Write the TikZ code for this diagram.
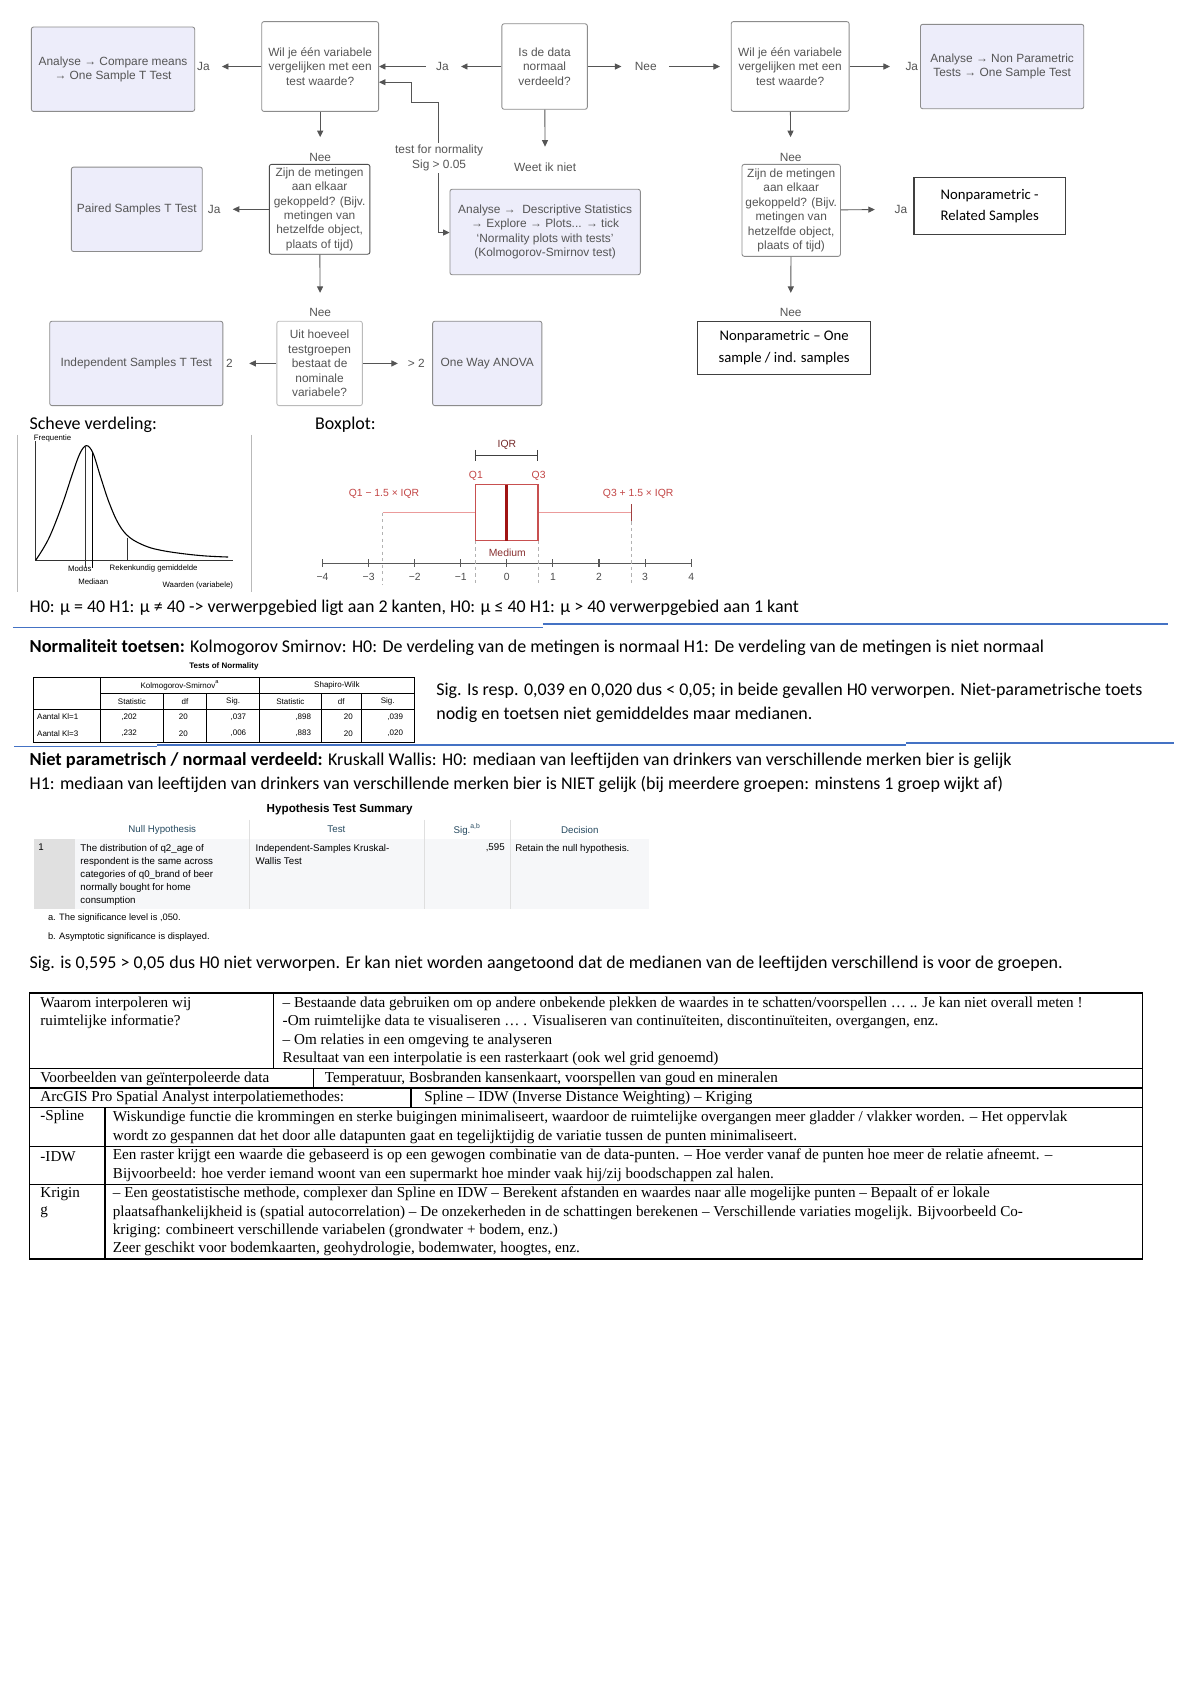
\documentclass[tikz,border=0pt]{standalone}
\usepackage{fontspec}
\setmainfont{Carlito}
\newfontfamily\arialf{Liberation Sans}
\newfontfamily\timesf{Liberation Serif}
\usetikzlibrary{arrows.meta}
\definecolor{lav}{RGB}{237,237,250}
\definecolor{fgrey}{RGB}{85,85,85}
\definecolor{bgrey}{RGB}{140,140,140}
\definecolor{sepblue}{RGB}{68,114,196}
\definecolor{bxred}{RGB}{200,80,80}
\definecolor{whred}{RGB}{235,155,155}
\definecolor{mdred}{RGB}{160,20,20}
\definecolor{lbred}{RGB}{195,70,70}
\definecolor{spssblue}{RGB}{38,74,96}
\definecolor{spssgrey}{RGB}{224,224,224}
\definecolor{spssbg}{RGB}{246,247,249}
\newcommand\fsz[2]{\fontsize{#1}{#2}\selectfont}
\tikzset{
  fc/.style={draw=bgrey, line width=0.4pt, rounded corners=1pt, align=center, inner sep=0pt, font=\arialf\fsz{5.5}{6.65}, text=fgrey},
  lavbox/.style={fc, fill=lav},
  whbox/.style={fc, fill=white},
  darkbox/.style={fc, fill=white, draw=black!70},
  blkbox/.style={draw=black!75, line width=0.5pt, align=center, inner sep=0pt, font=\fsz{6.8}{10}, text=black},
  lbl/.style={font=\arialf\fsz{5.5}{6.65}, text=fgrey, inner sep=0pt, align=center},
  arr/.style={draw=fgrey, line width=0.4pt, -{Triangle[length=3pt,width=2.8pt]}},
  arrboth/.style={draw=fgrey, line width=0.4pt, {Triangle[length=3pt,width=2.8pt]}-{Triangle[length=3pt,width=2.8pt]}},
  body/.style={anchor=west, inner sep=0pt, font=\fsz{8.3}{10}},
  tiny/.style={inner sep=0pt, font=\arialf\fsz{3.6}{4.2}},
  bpl/.style={inner sep=0pt, font=\arialf\fsz{4.8}{5.5}},
  ntab/.style={inner sep=0pt, font=\arialf\fsz{3.7}{4.2}},
  htab/.style={inner sep=0pt, font=\arialf\fsz{4.5}{6}, align=left},
  ttab/.style={anchor=west, inner sep=0pt, font=\timesf\fsz{7}{8.5}},
  sep/.style={draw=sepblue, line width=0.75pt}
}
\begin{document}
\begin{tikzpicture}[x={(0.5pt,0)}, y={(0,-0.5pt)}]
\fill[white] (0,0) rectangle (1109,1568);
\useasboundingbox (0,0) rectangle (1109,1568);

% ---------------- flowchart ----------------
\node[lavbox, minimum width=75.5pt, minimum height=39pt] (A) at (104.5,64) {Analyse → Compare means\\→ One Sample T Test};
\node[whbox, minimum width=54pt, minimum height=41.5pt] (B) at (296,61.5) {Wil je één variabele\\vergelijken met een\\test waarde?};
\node[whbox, minimum width=39.5pt, minimum height=39.5pt] (C) at (503.5,61.5) {Is de data\\normaal\\verdeeld?};
\node[whbox, minimum width=54.5pt, minimum height=41.5pt] (B2) at (730.5,61.5) {Wil je één variabele\\vergelijken met een\\test waarde?};
\node[lavbox, minimum width=75.5pt, minimum height=39pt] (A2) at (926.5,61.5) {Analyse → Non Parametric\\Tests → One Sample Test};
\node[darkbox, minimum width=46.5pt, minimum height=41.5pt] (E) at (295.5,193.5) {Zijn de metingen\\aan elkaar\\gekoppeld? (Bijv.\\metingen van\\hetzelfde object,\\plaats of tijd)};
\node[lavbox, minimum width=60.5pt, minimum height=39pt] (F) at (126.5,193.5) {Paired Samples T Test};
\node[lavbox, minimum width=88pt, minimum height=39.5pt] (D) at (504,214.5) {Analyse →\ \ Descriptive Statistics\\→ Explore → Plots... → tick\\‘Normality plots with tests’\\(Kolmogorov-Smirnov test)};
\node[whbox, minimum width=45.5pt, minimum height=42.5pt] (E2) at (731.5,194.5) {Zijn de metingen\\aan elkaar\\gekoppeld? (Bijv.\\metingen van\\hetzelfde object,\\plaats of tijd)};
\node[blkbox, minimum width=70pt, minimum height=26.5pt, align=left] (G) at (915,190.5) {Nonparametric -\\Related Samples};
\node[whbox, draw=bgrey!60, minimum width=39.5pt, minimum height=39pt] (H) at (295.5,336) {Uit hoeveel\\testgroepen\\bestaat de\\nominale\\variabele?};
\node[lavbox, minimum width=80pt, minimum height=39pt] (I) at (126,336) {Independent Samples T Test};
\node[lavbox, minimum width=50.5pt, minimum height=39pt] (J) at (450.5,336) {One Way ANOVA};
\node[blkbox, minimum width=80pt, minimum height=24.5pt] (K) at (725,321.5) {Nonparametric – One\\sample / ind. samples};

% labels
\node[lbl] (jaA) at (188,61.5) {Ja};
\node[lbl] (jaB) at (409,61.5) {Ja};
\node[lbl] (neeC) at (597,61.5) {Nee};
\node[lbl] (jaB2) at (843,61.5) {Ja};
\node[lbl] (neeB) at (296,146) {Nee};
\node[lbl] (jaE) at (198,193.5) {Ja};
\node[lbl] (wik) at (504,155) {Weet ik niet};
\node[lbl] (neeB2) at (731,146) {Nee};
\node[lbl] (jaE2) at (833,193.5) {Ja};
\node[lbl] (neeE) at (296,289) {Nee};
\node[lbl] (twoH) at (212,336) {2};
\node[lbl] (gtH) at (385,336) {> 2};
\node[lbl] (neeE2) at (731,289) {Nee};

% connectors
\draw[arr, shorten >=5.5pt] (B) -- (jaA);
\draw[arr, shorten >=5.5pt] (C) -- (jaB);
\draw[arr, shorten <=4.5pt] (jaB) -- (B);
\draw[arr, shorten >=6pt] (C) -- (neeC);
\draw[arr, shorten <=5.5pt, shorten >=5pt] (neeC) -- (B2);
\draw[arr, shorten >=7pt] (B2) -- (jaB2);
\draw[arr, shorten >=7.5pt] (B) -- (neeB);
\draw[arr, shorten >=5.5pt] (E) -- (jaE);
\draw[arr, shorten >=7.5pt] (C) -- (wik);
\draw[arr, shorten >=7.5pt] (B2) -- (neeB2);
\draw[arr, shorten >=9pt] (E2) -- (jaE2);
\draw[arr, shorten >=7pt] (E) -- (neeE);
\draw[arr, shorten >=7.5pt] (H) -- (twoH);
\draw[arr, shorten >=4.5pt] (H) -- (gtH);
\draw[arr, shorten >=7pt] (E2) -- (neeE2);
\draw[arrboth] (B.east |- 0,76) -- (380,76) -- (380,95) -- (405.7,95) -- (405.7,215) -- (D.west |- 0,215);
\node[lbl, fill=white, inner sep=1pt] (tfn) at (406,146) {test for normality\\Sig > 0.05};

% ---------------- skewed distribution ----------------
\node[body] (scheve) at (27,393) {Scheve verdeling:};
\node[body] (boxpl) at (291,393) {Boxplot:};
\draw[gray!55, line width=0.4pt] (16,402) -- (16,547);
\draw[gray!55, line width=0.4pt] (232,402) -- (232,547);
\draw[black!80, line width=0.4pt] (33,408) -- (33,518) -- (215,518);
\draw[black, line width=0.5pt] plot[smooth, tension=0.6] coordinates {(33,518) (45,498) (57,468) (67,438) (74,419) (80,412) (86,419) (93,441) (101,465) (110,485) (120,497) (135,505) (150,509) (170,512) (190,514) (211,515)};
\draw[black!80, line width=0.35pt] (79,412) -- (79,525);
\draw[black, line width=0.7pt] (85.5,418) -- (85.5,525);
\draw[black!80, line width=0.35pt] (118,497) -- (118,518);
\node[tiny, anchor=west] (freq) at (31,405) {Frequentie};
\node[tiny, anchor=east] (modus) at (85,526) {Modus};
\node[tiny, anchor=west] (mediaan) at (72,538) {Mediaan};
\node[tiny, anchor=west] (rekg) at (101,526) {Rekenkundig gemiddelde};
\node[tiny, anchor=west] (waard) at (150,541) {Waarden (variabele)};

% ---------------- boxplot ----------------
\draw[gray!70!black, line width=0.5pt] (298.2,521) -- (639,521);
\foreach \v/\t [count=\i] in {298.2/−4, 340.8/−3, 383.4/−2, 426/−1, 468.6/0, 511.2/1, 553.8/2, 596.4/3, 639/4}{
  \draw[gray!70!black, line width=0.5pt] (\v,517) -- (\v,524);
  \node[bpl, text=gray!60!black] (ax\i) at (\v,533) {\t};
}
\draw[gray!60, line width=0.35pt, dash pattern=on 1.5pt off 1.5pt] (439.9,500) -- (439.9,541);
\draw[gray!60, line width=0.35pt, dash pattern=on 1.5pt off 1.5pt] (497.3,500) -- (497.3,541);
\draw[gray!60, line width=0.35pt, dash pattern=on 1.5pt off 1.5pt] (353.7,474) -- (353.7,541);
\draw[gray!60, line width=0.35pt, dash pattern=on 1.5pt off 1.5pt] (583.5,482) -- (583.5,541);
\draw[whred, line width=0.7pt] (353.7,474) -- (439.9,474);
\draw[whred, line width=0.7pt] (497.3,474) -- (583.5,474);
\draw[bxred!80!black, line width=0.5pt] (583.5,466) -- (583.5,482);
\draw[bxred, line width=0.6pt] (439.9,448) rectangle (497.3,500);
\draw[mdred, line width=1.4pt] (468.6,448) -- (468.6,500);
\draw[gray!50!black, line width=0.5pt] (439.9,421) -- (497.3,421);
\draw[gray!50!black, line width=0.5pt] (439.9,416) -- (439.9,426);
\draw[gray!50!black, line width=0.5pt] (497.3,416) -- (497.3,426);
\node[bpl, text=lbred!60!black] (iqr) at (468.6,411) {IQR};
\node[bpl, text=lbred] (q1) at (440,440) {Q1};
\node[bpl, text=lbred] (q3) at (498,440) {Q3};
\node[bpl, text=lbred] (q1l) at (355,457) {Q1 − 1.5 × IQR};
\node[bpl, text=lbred] (q3l) at (590,457) {Q3 + 1.5 × IQR};
\node[bpl, text=lbred!70!black] (medl) at (469,511) {Medium};

% ---------------- text lines ----------------
\node[body] (hyp) at (27,562) {H0: μ = 40 H1: μ ≠ 40 -> verwerpgebied ligt aan 2 kanten, H0: μ ≤ 40 H1: μ > 40 verwerpgebied aan 1 kant};
\draw[sep] (12,580) -- (502,580);
\draw[sep] (502,577) -- (1080,577);
\node[body] (norm) at (27,599) {{\fsz{8.5}{10}\bfseries Normaliteit toetsen:} Kolmogorov Smirnov: H0: De verdeling van de metingen is normaal H1: De verdeling van de metingen is niet normaal};

% normality table
\node[ntab, font=\arialf\bfseries\fsz{3.7}{4.2}] (ton) at (207,616) {Tests of Normality};
\draw[black, line width=0.45pt] (31,626) rectangle (383,686);
\draw[black, line width=0.4pt] (93,641) -- (383,641);
\draw[black, line width=0.4pt] (31,656) -- (383,656);
\draw[black, line width=0.4pt] (93,626) -- (93,686);
\draw[black, line width=0.4pt] (240,626) -- (240,686);
\foreach \xx in {151,191,297,334} \draw[black, line width=0.4pt] (\xx,641) -- (\xx,686);
\node[ntab] (hks) at (166.5,633.5) {Kolmogorov-Smirnov\textsuperscript{a}};
\node[ntab] (hsw) at (311.5,633.5) {Shapiro-Wilk};
\node[ntab] (h1) at (122,648.5) {Statistic};
\node[ntab] (h2) at (171,648.5) {df};
\node[ntab] (h3) at (215.5,648.5) {Sig.};
\node[ntab] (h4) at (268.5,648.5) {Statistic};
\node[ntab] (h5) at (315.5,648.5) {df};
\node[ntab] (h6) at (358.5,648.5) {Sig.};
\node[ntab, anchor=west] (ra) at (34,663) {Aantal Kl=1};
\node[ntab, anchor=west] (rb) at (34,678) {Aantal Kl=3};
\node[ntab, anchor=east] (a1) at (127,663) {,202};
\node[ntab, anchor=east] (a2) at (174,663) {20};
\node[ntab, anchor=east] (a3) at (228,663) {,037};
\node[ntab, anchor=east] (a4) at (288,663) {,898};
\node[ntab, anchor=east] (a5) at (326.5,663) {20};
\node[ntab, anchor=east] (a6) at (373,663) {,039};
\node[ntab, anchor=east] (b1) at (127,678) {,232};
\node[ntab, anchor=east] (b2) at (174,678) {20};
\node[ntab, anchor=east] (b3) at (228,678) {,006};
\node[ntab, anchor=east] (b4) at (288,678) {,883};
\node[ntab, anchor=east] (b5) at (326.5,678) {20};
\node[ntab, anchor=east] (b6) at (373,678) {,020};

\node[body] (sig1) at (403,639) {Sig. Is resp. 0,039 en 0,020 dus < 0,05; in beide gevallen H0 verworpen. Niet-parametrische toets};
\node[body] (sig2) at (403,661) {nodig en toetsen niet gemiddeldes maar medianen.};
\draw[sep] (13,690) -- (145,690);
\draw[sep] (145,689) -- (838,689);
\draw[sep] (838,687) -- (1085,687);

\node[body] (np1) at (27,703) {{\fsz{8.5}{10}\bfseries Niet parametrisch / normaal verdeeld:} Kruskall Wallis: H0: mediaan van leeftijden van drinkers van verschillende merken bier is gelijk};
\node[body] (np2) at (27,725) {H1: mediaan van leeftijden van drinkers van verschillende merken bier is NIET gelijk (bij meerdere groepen: minstens 1 groep wijkt af)};

% hypothesis test summary
\node[inner sep=0pt, font=\arialf\bfseries\fsz{5.4}{6}] (hts) at (314,748) {Hypothesis Test Summary};
\fill[spssbg] (69,776) rectangle (600,840);
\fill[spssgrey] (31,776) rectangle (69,840);
\foreach \xx in {231,392,472} \draw[gray!25, line width=0.4pt] (\xx,758) -- (\xx,840);
\node[htab, text=spssblue] (hn) at (150,767) {Null Hypothesis};
\node[htab, text=spssblue] (ht) at (311,767) {Test};
\node[htab, text=spssblue] (hs) at (432,767) {Sig.\textsuperscript{a,b}};
\node[htab, text=spssblue] (hd) at (536,767) {Decision};
\node[htab, anchor=north west] (c0) at (35,780) {1};
\node[htab, anchor=north west] (c1) at (74,780) {The distribution of q2\_age of\\respondent is the same across\\categories of q0\_brand of beer\\normally bought for home\\consumption};
\node[htab, anchor=north west] (c2) at (236,780) {Independent-Samples Kruskal-\\Wallis Test};
\node[htab, anchor=north east] (c3) at (467,780) {,595};
\node[htab, anchor=north west] (c4) at (476,780) {Retain the null hypothesis.};
\node[htab, anchor=west, font=\arialf\fsz{4.3}{5}] (fa) at (44,849) {a. The significance level is ,050.};
\node[htab, anchor=west, font=\arialf\fsz{4.3}{5}] (fb) at (44,866) {b. Asymptotic significance is displayed.};

\node[body] (s595) at (27,891) {Sig. is 0,595 > 0,05 dus H0 niet verworpen. Er kan niet worden aangetoond dat de medianen van de leeftijden verschillend is voor de groepen.};

% ---------------- bottom table ----------------
\draw[black, line width=0.6pt] (27,918) rectangle (1056,1164);
\foreach \yy in {988,1006,1024,1060,1095} \draw[black, line width=0.6pt] (27,\yy) -- (1056,\yy);
\draw[black, line width=0.6pt] (253,918) -- (253,988);
\draw[black, line width=0.6pt] (290,988) -- (290,1006);
\draw[black, line width=0.6pt] (380,1006) -- (380,1024);
\draw[black, line width=0.6pt] (97,1024) -- (97,1164);

\node[ttab] (r1a) at (37,928) {Waarom interpoleren wij};
\node[ttab] (r1b) at (37,945) {ruimtelijke informatie?};
\node[ttab] (r1c) at (261,928) {– Bestaande data gebruiken om op andere onbekende plekken de waardes in te schatten/voorspellen … .. Je kan niet overall meten !};
\node[ttab] (r1d) at (261,945) {-Om ruimtelijke data te visualiseren … . Visualiseren van continuïteiten, discontinuïteiten, overgangen, enz.};
\node[ttab] (r1e) at (261,962) {– Om relaties in een omgeving te analyseren};
\node[ttab] (r1f) at (261,979) {Resultaat van een interpolatie is een rasterkaart (ook wel grid genoemd)};
\node[ttab] (r2a) at (37,997) {Voorbeelden van geïnterpoleerde data};
\node[ttab] (r2b) at (300,997) {Temperatuur, Bosbranden kansenkaart, voorspellen van goud en mineralen};
\node[ttab] (r3a) at (37,1015) {ArcGIS Pro Spatial Analyst interpolatiemethodes:};
\node[ttab] (r3b) at (392,1015) {Spline – IDW (Inverse Distance Weighting) – Kriging};
\node[ttab] (r4a) at (37,1033) {-Spline};
\node[ttab] (r4b) at (104,1033) {Wiskundige functie die krommingen en sterke buigingen minimaliseert, waardoor de ruimtelijke overgangen meer gladder / vlakker worden. – Het oppervlak};
\node[ttab] (r4c) at (104,1051) {wordt zo gespannen dat het door alle datapunten gaat en tegelijktijdig de variatie tussen de punten minimaliseert.};
\node[ttab] (r5a) at (37,1069) {-IDW};
\node[ttab] (r5b) at (104,1069) {Een raster krijgt een waarde die gebaseerd is op een gewogen combinatie van de data-punten. – Hoe verder vanaf de punten hoe meer de relatie afneemt. –};
\node[ttab] (r5c) at (104,1086) {Bijvoorbeeld: hoe verder iemand woont van een supermarkt hoe minder vaak hij/zij boodschappen zal halen.};
\node[ttab] (r6a) at (37,1104) {Krigin};
\node[ttab] (r6b) at (37,1121) {g};
\node[ttab] (r6c) at (104,1104) {– Een geostatistische methode, complexer dan Spline en IDW – Berekent afstanden en waardes naar alle mogelijke punten – Bepaalt of er lokale};
\node[ttab] (r6d) at (104,1121) {plaatsafhankelijkheid is (spatial autocorrelation) – De onzekerheden in de schattingen berekenen – Verschillende variaties mogelijk. Bijvoorbeeld Co-};
\node[ttab] (r6e) at (104,1138) {kriging: combineert verschillende variabelen (grondwater + bodem, enz.)};
\node[ttab] (r6f) at (104,1155) {Zeer geschikt voor bodemkaarten, geohydrologie, bodemwater, hoogtes, enz.};
\end{tikzpicture}
\end{document}
